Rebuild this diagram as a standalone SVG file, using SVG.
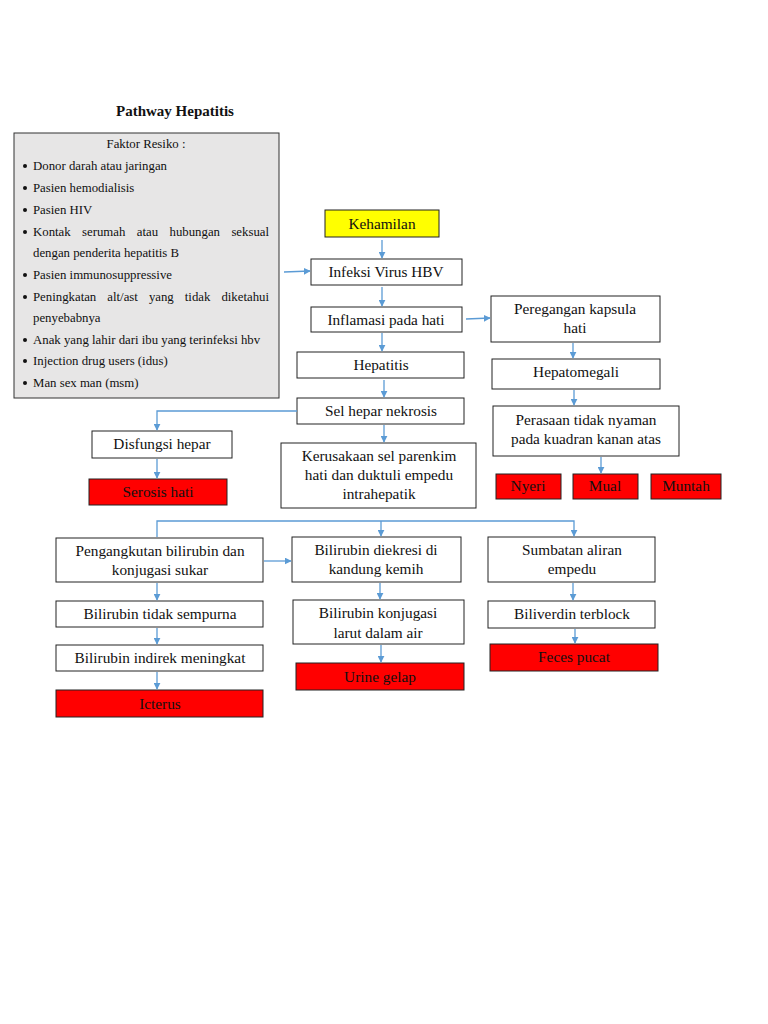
<svg xmlns="http://www.w3.org/2000/svg" width="768" height="1024" viewBox="0 0 768 1024">
<style>
text{font-family:"Liberation Serif","Times New Roman",serif;fill:#111;}
.t{font-size:15.3px;text-anchor:middle;}
.s{font-size:12.8px;}
.box{fill:#fff;stroke:#222;stroke-width:1;}
.red{fill:#ff0000;stroke:#222;stroke-width:1;}
.yel{fill:#ffff00;stroke:#222;stroke-width:1;}
.c{fill:none;stroke:#5b9bd5;stroke-width:1.3;}
</style>
<defs>
<marker id="ah" viewBox="0 0 10 10" refX="9" refY="5" markerWidth="7" markerHeight="7" markerUnits="userSpaceOnUse" orient="auto">
<path d="M0,0 L10,5 L0,10 z" fill="#5b9bd5"/>
</marker>
</defs>
<rect width="768" height="1024" fill="#fff"/>
<text x="175" y="116" style="font-size:15px;font-weight:bold;text-anchor:middle">Pathway Hepatitis</text>

<g id="faktor">
<rect x="14" y="133" width="265" height="265" fill="#e7e6e6" stroke="#333" stroke-width="1"/>
<text class="s" x="146" y="148" text-anchor="middle">Faktor Resiko :</text>
<g fill="#111">
<circle cx="25" cy="166" r="2"/><circle cx="25" cy="188" r="2"/><circle cx="25" cy="210" r="2"/><circle cx="25" cy="232" r="2"/><circle cx="25" cy="275" r="2"/><circle cx="25" cy="297" r="2"/><circle cx="25" cy="340" r="2"/><circle cx="25" cy="361" r="2"/><circle cx="25" cy="383" r="2"/>
</g>
<text class="s" x="33" y="170">Donor darah atau jaringan</text>
<text class="s" x="33" y="192">Pasien hemodialisis</text>
<text class="s" x="33" y="214">Pasien HIV</text>
<text class="s" y="236"><tspan x="33">Kontak</tspan><tspan x="82">serumah</tspan><tspan x="136.8">atau</tspan><tspan x="169.5">hubungan</tspan><tspan x="231.4">seksual</tspan></text>
<text class="s" x="33" y="257">dengan penderita hepatitis B</text>
<text class="s" x="33" y="279">Pasien immunosuppressive</text>
<text class="s" y="301"><tspan x="33">Peningkatan</tspan><tspan x="107.3">alt/ast</tspan><tspan x="148.9">yang</tspan><tspan x="184.8">tidak</tspan><tspan x="221.4">diketahui</tspan></text>
<text class="s" x="33" y="322">penyebabnya</text>
<text class="s" x="33" y="344">Anak yang lahir dari ibu yang terinfeksi hbv</text>
<text class="s" x="33" y="365">Injection drug users (idus)</text>
<text class="s" x="33" y="387">Man sex man (msm)</text>
</g>

<g id="kehamilan"><rect class="yel" x="325" y="210" width="114" height="27"/><text class="t" x="382" y="229">Kehamilan</text></g>
<g id="infeksi"><rect class="box" x="311" y="259" width="151" height="26"/><text class="t" x="386" y="277">Infeksi Virus HBV</text></g>
<g id="inflamasi"><rect class="box" x="311" y="307" width="151" height="25"/><text class="t" x="386" y="325">Inflamasi pada hati</text></g>
<g id="peregangan"><rect class="box" x="491" y="296" width="169" height="46"/><text class="t" x="575" y="314">Peregangan kapsula</text><text class="t" x="575" y="333">hati</text></g>
<g id="hepatomegali"><rect class="box" x="492" y="359" width="168" height="30"/><text class="t" x="576" y="377">Hepatomegali</text></g>
<g id="perasaan"><rect class="box" x="493" y="406" width="186" height="50"/><text class="t" x="586" y="425">Perasaan tidak nyaman</text><text class="t" x="586" y="444">pada kuadran kanan atas</text></g>
<g id="nyeri"><rect class="red" x="496" y="474" width="65" height="25"/><text class="t" x="528" y="491">Nyeri</text></g>
<g id="mual"><rect class="red" x="573" y="474" width="65" height="25"/><text class="t" x="605" y="491">Mual</text></g>
<g id="muntah"><rect class="red" x="651" y="474" width="70" height="25"/><text class="t" x="686" y="491">Muntah</text></g>
<g id="hepatitis"><rect class="box" x="297" y="352" width="167" height="26"/><text class="t" x="381" y="370">Hepatitis</text></g>
<g id="nekrosis"><rect class="box" x="297" y="398" width="167" height="26"/><text class="t" x="381" y="416">Sel hepar nekrosis</text></g>
<g id="disfungsi"><rect class="box" x="92" y="431" width="140" height="27"/><text class="t" x="162" y="449">Disfungsi hepar</text></g>
<g id="serosis"><rect class="red" x="89" y="479" width="138" height="26"/><text class="t" x="158" y="497">Serosis hati</text></g>
<g id="kerusakaan"><rect class="box" x="281" y="443" width="195" height="65"/><text class="t" x="379" y="461">Kerusakaan sel parenkim</text><text class="t" x="379" y="480">hati dan duktuli empedu</text><text class="t" x="379" y="499">intrahepatik</text></g>
<g id="pengangkutan"><rect class="box" x="56" y="538" width="207" height="44"/><text class="t" x="160" y="556">Pengangkutan bilirubin dan</text><text class="t" x="160" y="575">konjugasi sukar</text></g>
<g id="diekresi"><rect class="box" x="292" y="537" width="169" height="45"/><text class="t" x="376" y="555">Bilirubin diekresi di</text><text class="t" x="376" y="574">kandung kemih</text></g>
<g id="sumbatan"><rect class="box" x="488" y="537" width="167" height="45"/><text class="t" x="572" y="555">Sumbatan aliran</text><text class="t" x="572" y="574">empedu</text></g>
<g id="tidaksempurna"><rect class="box" x="56" y="601" width="207" height="26"/><text class="t" x="160" y="619">Bilirubin tidak sempurna</text></g>
<g id="konjugasi"><rect class="box" x="293" y="600" width="171" height="44"/><text class="t" x="378" y="618">Bilirubin konjugasi</text><text class="t" x="378" y="638">larut dalam air</text></g>
<g id="biliverdin"><rect class="box" x="488" y="601" width="167" height="27"/><text class="t" x="572" y="619">Biliverdin terblock</text></g>
<g id="indirek"><rect class="box" x="56" y="645" width="207" height="26"/><text class="t" x="160" y="663">Bilirubin indirek meningkat</text></g>
<g id="icterus"><rect class="red" x="56" y="690" width="207" height="27"/><text class="t" x="160" y="709">Icterus</text></g>
<g id="urine"><rect class="red" x="296" y="663" width="168" height="27"/><text class="t" x="380" y="682">Urine gelap</text></g>
<g id="feces"><rect class="red" x="490" y="644" width="168" height="27"/><text class="t" x="574" y="662">Feces pucat</text></g>

<g id="connectors">
<line class="c" x1="382" y1="240" x2="382" y2="258" marker-end="url(#ah)"/>
<line class="c" x1="284" y1="272" x2="310" y2="271" marker-end="url(#ah)"/>
<line class="c" x1="382" y1="287" x2="382" y2="306" marker-end="url(#ah)"/>
<line class="c" x1="466" y1="319" x2="490" y2="318" marker-end="url(#ah)"/>
<line class="c" x1="573" y1="343" x2="573" y2="358" marker-end="url(#ah)"/>
<line class="c" x1="574" y1="390" x2="574" y2="405" marker-end="url(#ah)"/>
<line class="c" x1="601" y1="457" x2="601" y2="473" marker-end="url(#ah)"/>
<line class="c" x1="382" y1="333" x2="382" y2="351" marker-end="url(#ah)"/>
<line class="c" x1="384" y1="380" x2="384" y2="397" marker-end="url(#ah)"/>
<polyline class="c" points="297,411 157,411 157,430" marker-end="url(#ah)"/>
<line class="c" x1="157" y1="459" x2="157" y2="478" marker-end="url(#ah)"/>
<line class="c" x1="384" y1="425" x2="384" y2="442" marker-end="url(#ah)"/>
<polyline class="c" points="157,537 157,521 574,521 574,536" marker-end="url(#ah)"/>
<line class="c" x1="381" y1="521" x2="381" y2="536" marker-end="url(#ah)"/>
<line class="c" x1="264" y1="561" x2="291" y2="561" marker-end="url(#ah)"/>
<line class="c" x1="157" y1="583" x2="157" y2="600" marker-end="url(#ah)"/>
<line class="c" x1="380" y1="583" x2="380" y2="599" marker-end="url(#ah)"/>
<line class="c" x1="573" y1="583" x2="573" y2="600" marker-end="url(#ah)"/>
<line class="c" x1="157" y1="628" x2="157" y2="644" marker-end="url(#ah)"/>
<line class="c" x1="157" y1="672" x2="157" y2="689" marker-end="url(#ah)"/>
<line class="c" x1="381" y1="645" x2="381" y2="662" marker-end="url(#ah)"/>
<line class="c" x1="575" y1="629" x2="575" y2="643" marker-end="url(#ah)"/>
</g>
</svg>
